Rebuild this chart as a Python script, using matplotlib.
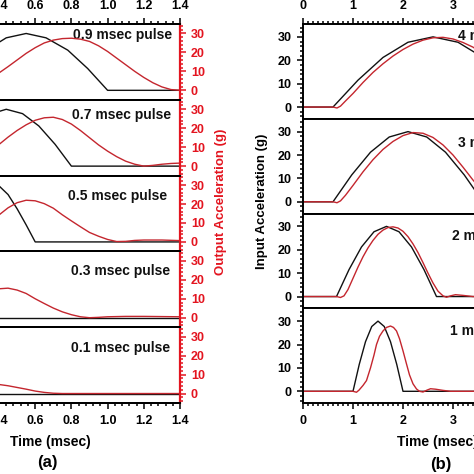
import matplotlib.pyplot as plt
from matplotlib.ticker import MultipleLocator

plt.rcParams['font.family'] = ['Liberation Sans', 'DejaVu Sans']
plt.rcParams['font.weight'] = 'bold'

ink = "#111111"
out_red = "#c4262e"
axis_red = "#e3141f"

# ---- (a) short pulses: input (black) and output (red), time in msec, accel in g
a_labels = ["0.9 msec pulse", "0.7 msec pulse", "0.5 msec pulse", "0.3 msec pulse", "0.1 msec pulse"]
a_label_x = [0.807, 0.802, 0.783, 0.798, 0.798]
a_label_y = [29.3, 27.2, 24.2, 24.4, 24.2]

a_in_t09 = [0, 0.1, 0.21, 0.33, 0.44, 0.55, 0.66, 0.78, 0.89, 1.0, 1.4]
a_in_g09 = [0, 0, 11.5, 21.2, 27.7, 30, 27.7, 21.2, 11.5, 0, 0]
a_in_t07 = [0, 0.1, 0.19, 0.28, 0.36, 0.44, 0.53, 0.62, 0.71, 0.8, 1.4]
a_in_g07 = [0, 0, 11.5, 21.2, 27.7, 30, 27.7, 21.2, 11.5, 0, 0]
a_in_t05 = [0, 0.1, 0.17, 0.24, 0.31, 0.39, 0.45, 0.5, 0.55, 0.6, 1.4]
a_in_g05 = [0, 0, 11.5, 21.2, 27.7, 30.5, 25, 17.5, 9, 0, 0]
a_in_t03 = [0, 0.1, 0.14, 0.18, 0.21, 0.25, 0.29, 0.33, 0.36, 0.4, 1.4]
a_in_g03 = [0, 0, 11.5, 21.2, 27.7, 30, 27.7, 21.2, 11.5, 0, 0]
a_in_t01 = [0, 0.1, 0.11, 0.13, 0.14, 0.15, 0.16, 0.18, 0.19, 0.2, 1.4]
a_in_g01 = [0, 0, 11.5, 21.2, 27.7, 30, 27.7, 21.2, 11.5, 0, 0]

a_out_t09 = [0, 0.1, 0.2, 0.3, 0.405, 0.45, 0.5, 0.55, 0.6, 0.65, 0.7, 0.75, 0.8, 0.85, 0.9,
             0.95, 1.0, 1.05, 1.1, 1.15, 1.2, 1.25, 1.3, 1.35, 1.4]
a_out_g09 = [0, 0, 1.5, 5, 9.5, 12.5, 16, 19.5, 22.5, 25, 26.5, 27.3, 27.5, 27, 25.8,
             23.5, 20.5, 17, 13.5, 10, 6.8, 4, 1.8, 0.4, 0]
a_out_t07 = [0, 0.1, 0.2, 0.3, 0.405, 0.45, 0.5, 0.55, 0.6, 0.65, 0.7, 0.75, 0.8, 0.85, 0.9,
             0.95, 1.0, 1.05, 1.1, 1.15, 1.2, 1.25, 1.3, 1.35, 1.4]
a_out_g07 = [0, 0, 2, 6.5, 11.8, 15.3, 18.8, 21.8, 24.2, 25.5, 25.8, 24.6, 22.2, 18.8, 15,
             11.2, 7.9, 5, 2.6, 1, 0, 0.4, 1, 1.4, 1.6]
a_out_t05 = [0, 0.1, 0.2, 0.3, 0.405, 0.45, 0.5, 0.55, 0.6, 0.65, 0.7, 0.75, 0.8, 0.85, 0.9,
             0.95, 1.0, 1.05, 1.1, 1.15, 1.2, 1.3, 1.4]
a_out_g05 = [0, 0, 2.5, 8.5, 14.6, 18, 20.7, 22, 21.7, 20.2, 17.8, 14.3, 11.1, 8, 5,
             3, 1.3, 0.2, 0.3, 0.8, 1.0, 1.0, 0.7]
a_out_t03 = [0, 0.1, 0.2, 0.3, 0.405, 0.45, 0.5, 0.55, 0.6, 0.65, 0.7, 0.75, 0.8, 0.85, 0.9,
             0.95, 1.0, 1.1, 1.2, 1.4]
a_out_g03 = [0, 0, 3, 9.5, 15.3, 15.6, 14.6, 12.8, 10, 7.5, 5.1, 3.1, 1.6, 0.5, 0,
             0.2, 0.5, 0.7, 0.7, 0.5]
a_out_t01 = [0, 0.1, 0.2, 0.3, 0.405, 0.45, 0.5, 0.55, 0.6, 0.65, 0.7, 0.75, 1.4]
a_out_g01 = [0, 0, 2, 5.2, 4.7, 4.1, 3.2, 2.3, 1.3, 0.6, 0.15, 0, 0]

# ---- (b) long pulses
b_labels = ["4 msec pulse", "3 msec pulse", "2 msec pulse", "1 msec pulse"]
b_label_x = [3.1, 3.1, 2.98, 2.94]
b_label_y = [30.5, 25, 26, 25.7]

b_in_g = [0, 0, 11.5, 21.2, 27.7, 30, 27.7, 21.2, 11.5, 0, 0]
b_in_t4 = [0, 0.6, 1.1, 1.6, 2.1, 2.6, 3.1, 3.6, 4.1, 4.6, 5.5]
b_in_t3 = [0, 0.6, 0.975, 1.35, 1.725, 2.1, 2.475, 2.85, 3.225, 3.6, 5.5]
b_in_t2 = [0, 0.67, 0.92, 1.17, 1.42, 1.67, 1.92, 2.17, 2.42, 2.67, 5.5]
b_in_t1 = [0, 1.0, 1.125, 1.25, 1.375, 1.5, 1.625, 1.75, 1.875, 2.0, 5.5]

b_out_t4 = [0, 0.6, 0.68, 0.75, 0.85, 1.0, 1.2, 1.4, 1.6, 1.8, 2.0, 2.2, 2.4, 2.6, 2.8, 3.0,
            3.2, 3.4, 3.6, 3.8, 4.0, 4.2, 4.4, 4.6, 4.75, 4.85, 5.0, 5.5]
b_out_g4 = [0, 0, -0.4, 0.4, 2.6, 5.8, 10.5, 14.8, 18.5, 21.8, 24.6, 26.9, 28.6, 29.6, 29.8, 29.1,
            27.6, 25.6, 22.9, 19.7, 16.2, 12.3, 8.2, 4, 1, 0, 0.5, 0]
b_out_t3 = [0, 0.6, 0.68, 0.75, 0.85, 1.0, 1.2, 1.4, 1.6, 1.8, 2.0, 2.2, 2.4, 2.6, 2.8, 3.0,
            3.2, 3.4, 3.6, 3.75, 3.85, 3.95, 4.1, 4.3, 4.6, 5.5]
b_out_g3 = [0, 0, -0.4, 0.4, 2.8, 7, 12.8, 18, 22.4, 25.8, 28.3, 29.6, 29.3, 27.5, 24.3, 20,
            14.8, 9.3, 4.2, 1, -0.2, -0.3, 0.7, 0.4, 0, 0]
b_out_t2 = [0, 0.67, 0.75, 0.82, 0.9, 1.0, 1.1, 1.2, 1.3, 1.4, 1.5, 1.6, 1.7, 1.8, 1.9, 2.0,
            2.1, 2.2, 2.3, 2.4, 2.5, 2.6, 2.7, 2.8, 2.87, 2.95, 3.05, 3.2, 3.4, 5.5]
b_out_g2 = [0, 0, -0.4, 0.3, 3, 7.8, 12.6, 17, 20.8, 24, 26.6, 28.4, 29.5, 29.8, 29.3, 27.9,
            25.6, 22.5, 18.8, 14.5, 10, 5.8, 2.3, 0.3, -0.3, 0.3, 0.8, 0.5, 0, 0]
b_out_t1 = [0, 1.0, 1.07, 1.12, 1.2, 1.27, 1.35, 1.42, 1.47, 1.53, 1.6, 1.67, 1.75, 1.81, 1.87,
            1.93, 2.0, 2.07, 2.13, 2.2, 2.27, 2.33, 2.4, 2.48, 2.55, 2.65, 2.8, 2.95, 5.5]
b_out_g1 = [0, 0, -0.4, 0.5, 2.5, 4.6, 10, 15.5, 20, 23.5, 25.8, 27.3, 27.9, 27.3, 25.8,
            22.5, 17.3, 11.7, 7, 3.2, 1, 0, -0.3, 0.5, 1.1, 0.9, 0.4, 0, 0]

a_in_t = [a_in_t09, a_in_t07, a_in_t05, a_in_t03, a_in_t01]
a_in_g = [a_in_g09, a_in_g07, a_in_g05, a_in_g03, a_in_g01]
a_out_t = [a_out_t09, a_out_t07, a_out_t05, a_out_t03, a_out_t01]
a_out_g = [a_out_g09, a_out_g07, a_out_g05, a_out_g03, a_out_g01]
b_in_t = [b_in_t4, b_in_t3, b_in_t2, b_in_t1]
b_out_t = [b_out_t4, b_out_t3, b_out_t2, b_out_t1]
b_out_g = [b_out_g4, b_out_g3, b_out_g2, b_out_g1]

W = H = 474.0
fig = plt.figure(figsize=(4.74, 4.74), dpi=100)


def box(left, top, width, height):
    # pixel box (from top-left) -> figure fraction
    return [left / W, 1 - (top + height) / H, width / W, height / H]


def style_axis(ax, n, k, xmaj, xmin):
    ax.xaxis.set_major_locator(MultipleLocator(xmaj))
    ax.xaxis.set_minor_locator(MultipleLocator(xmin))
    ax.yaxis.set_major_locator(MultipleLocator(10))
    ax.yaxis.set_minor_locator(MultipleLocator(2))
    ax.tick_params(which='both', direction='out', width=1.1, labelsize=9, pad=4)
    ax.tick_params(which='major', length=4.3)
    ax.tick_params(which='minor', length=2.4)
    ax.tick_params(axis='x', which='both', top=(k == 0), labeltop=(k == 0),
                   bottom=True, labelbottom=(k == n - 1))
    for s in ax.spines.values():
        s.set_linewidth(1.4)


# (a)
a_h = 379 / 5.0
for k in range(5):
    ax = fig.add_axes(box(-73.4, 24 + k * a_h, 253.4, a_h))
    ax.plot(a_in_t[k], a_in_g[k], color=ink, lw=1.0)
    ax.set_xlim(0, 1.4)
    ax.set_ylim(-5, 35)
    style_axis(ax, 5, k, 0.2, 0.04)
    ax.tick_params(axis='y', labelleft=False)
    ax.spines['right'].set_visible(False)
    ax.xaxis.set_major_formatter(lambda v, p: f"{v:.1f}" if v > 0.3 else "")
    ax2 = ax.twinx()
    ax2.plot(a_out_t[k], a_out_g[k], color=out_red, lw=1.0)
    ax2.set_ylim(-5, 35)
    ax2.yaxis.set_major_locator(MultipleLocator(10))
    ax2.yaxis.set_minor_locator(MultipleLocator(2))
    ax2.tick_params(which='both', direction='out', width=1.1, colors=axis_red, labelsize=9, pad=3.5)
    ax2.tick_params(which='major', length=4.3)
    ax2.tick_params(which='minor', length=2.4)
    for s in ax2.spines.values():
        s.set_linewidth(1.4)
    ax2.spines['right'].set_color(axis_red)
    ax2.spines['right'].set_linewidth(1.6)
    ax.text(a_label_x[k], a_label_y[k], a_labels[k], fontsize=10, va='center', ha='left', color=ink)

# (b)
b_h = 379 / 4.0
for k in range(4):
    ax = fig.add_axes(box(303, 24 + k * b_h, 250, b_h))
    ax.plot(b_in_t[k], b_in_g, color=ink, lw=1.0)
    ax.plot(b_out_t[k], b_out_g[k], color=out_red, lw=1.0)
    ax.set_xlim(0, 5)
    ax.set_ylim(-5, 35.5)
    style_axis(ax, 4, k, 1, 0.1)
    ax.xaxis.set_major_formatter(lambda v, p: f"{v:.0f}" if v < 3.5 else "")
    ax.text(b_label_x[k], b_label_y[k], b_labels[k], fontsize=10, va='center', ha='left', color=ink)

fig.text(10 / W, 1 - 442 / H, "Time (msec)", fontsize=10, ha='left', va='center')
fig.text(397 / W, 1 - 442 / H, "Time (msec)", fontsize=10, ha='left', va='center')
fig.text(47 / W, 1 - 463 / H, "(a)", fontsize=12, ha='center', va='center')
fig.text(441 / W, 1 - 465 / H, "(b)", fontsize=12, ha='center', va='center')
fig.text(221 / W, 1 - 202 / H, "Output Acceleration (g)", fontsize=9.5, rotation=90,
         ha='center', va='center', color=axis_red)
fig.text(262 / W, 1 - 201 / H, "Input Acceleration (g)", fontsize=9.5, rotation=90,
         ha='center', va='center')

fig.savefig("out.png", dpi=100)
